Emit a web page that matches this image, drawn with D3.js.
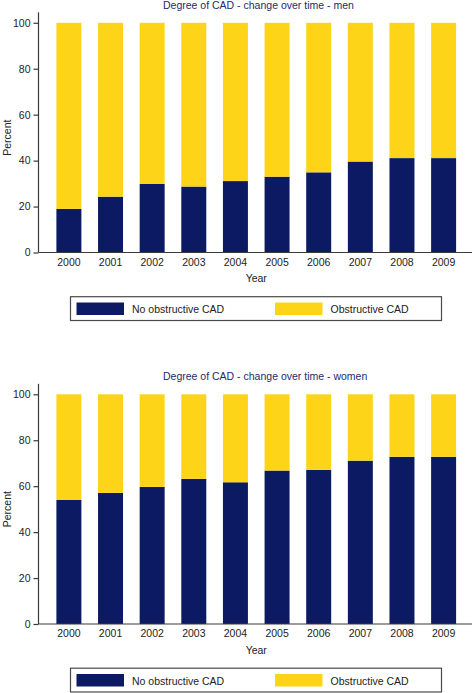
<!DOCTYPE html>
<html lang="en">
<head>
    <meta charset="UTF-8">
    <title>Degree of CAD - change over time</title>
    <style>
        body{
            margin: 0;
            background-color: #ffffff;
        }
        svg{
            display: block;
            font-family: "Liberation Sans", Arial, sans-serif;
        }
        .axis text{
            font-size: 10.5px;
            fill: #222;
        }
        .axis .domain, .axis line{
            stroke: #3a3a3a;
            stroke-width: 1.2px;
        }
        .title{
            font-size: 10.5px;
            fill: #1e2a6e;
        }
        .label{
            font-size: 10.5px;
            fill: #222;
        }
        .legendBox{
            fill: none;
            stroke: #4a4a4a;
            stroke-width: 1.2px;
        }
    </style>
    <script src="https://cdn.jsdelivr.net/npm/d3@7"></script>
</head>
<body>
<script>

    const years = ["2000","2001","2002","2003","2004","2005","2006","2007","2008","2009"];
    // percent with no obstructive CAD, the rest is obstructive
    const menNoObstructive   = [19.0, 24.3, 29.9, 28.7, 31.1, 33.0, 34.9, 39.6, 41.1, 41.1];
    const womenNoObstructive = [54.0, 57.1, 59.7, 63.2, 61.7, 66.8, 67.1, 71.1, 72.8, 72.8];
    const yTicks = [0, 20, 40, 60, 80, 100];
    const seriesNames = ["No obstructive CAD", "Obstructive CAD"];
    const titles = ["Degree of CAD - change over time - men",
                    "Degree of CAD - change over time - women"];

    const colors = ["#0b1a62", "#fdd418"];

    const width = 474;
    const height = 693;

    const svg = d3.select("body").append("svg")
        .attr("width", width)
        .attr("height", height)
        .attr("viewBox", `0,0,${width},${height}`);

    const margins = {left: 38.5, right: 474, top: 22.8, bottom: 252.5};

    const xScale = d3.scaleBand()
        .domain(years)
        .range([margins.left, margins.right])
        .paddingInner(0.4)
        .paddingOuter(0.43);

    const yScale = d3.scaleLinear()
        .domain([0, 100])
        .range([margins.bottom, margins.top]);

    function drawPanel(offsetY, title, values){
        const g = svg.append("g")
            .attr("transform", `translate(0,${offsetY})`);

        const data = years.map((y, i) => ({year: y, no: values[i], obs: 100 - values[i]}));
        const stack = d3.stack().keys(["no", "obs"])(data);

        // bars
        g.append("g")
            .selectAll("g")
            .data(stack)
            .enter()
            .append("g")
            .attr("fill", (d, i) => colors[i])
            .selectAll("rect")
            .data(d => d)
            .enter()
            .append("rect")
            .attr("x", d => xScale(d.data.year))
            .attr("width", xScale.bandwidth())
            .attr("y", d => yScale(d[1]))
            .attr("height", d => yScale(d[0]) - yScale(d[1]));

        // y axis
        const yAxis = g.append("g")
            .attr("class", "axis")
            .attr("transform", `translate(${margins.left},0)`)
            .call(d3.axisLeft(yScale).tickValues(yTicks).tickSize(5).tickSizeOuter(0).tickPadding(3));
        yAxis.select(".domain").remove();
        yAxis.append("line")
            .attr("x1", 0).attr("x2", 0)
            .attr("y1", yScale(0))
            .attr("y2", yScale(100) - 10.5)
            .attr("stroke", "#3a3a3a")
            .attr("stroke-width", 1.2);

        // x axis
        const xAxis = g.append("g")
            .attr("class", "axis")
            .attr("transform", `translate(0,${margins.bottom})`)
            .call(d3.axisBottom(xScale).tickSize(0).tickPadding(6));
        xAxis.select(".domain").remove();
        xAxis.append("line")
            .attr("x1", margins.left).attr("x2", 472)
            .attr("y1", 0).attr("y2", 0)
            .attr("stroke", "#3a3a3a")
            .attr("stroke-width", 1.2);

        // title
        g.append("text")
            .attr("class", "title")
            .attr("x", 163)
            .attr("y", 8.8)
            .text(title);

        // axis labels
        g.append("text")
            .attr("class", "label")
            .attr("transform", `translate(7,${(margins.top + margins.bottom) / 2}) rotate(-90)`)
            .attr("dy", "0.35em")
            .style("text-anchor", "middle")
            .text("Percent");

        g.append("text")
            .attr("class", "label")
            .attr("x", (margins.left + margins.right) / 2)
            .attr("y", 282)
            .style("text-anchor", "middle")
            .text("Year");

        // legend
        g.append("rect")
            .attr("class", "legendBox")
            .attr("x", 70.5)
            .attr("y", 296.7)
            .attr("width", 371)
            .attr("height", 23.8);

        const legend = g.append("g")
            .selectAll("g")
            .data(seriesNames)
            .enter()
            .append("g")
            .attr("transform", (d, i) => `translate(${76.5 + i * 198.5},302.5)`);

        legend.append("rect")
            .attr("width", 47.5)
            .attr("height", 12.5)
            .attr("fill", (d, i) => colors[i]);

        legend.append("text")
            .attr("class", "label")
            .attr("x", 55.5)
            .attr("y", 10.8)
            .text(d => d);
    }

    drawPanel(0, titles[0], menNoObstructive);
    drawPanel(371.5, titles[1], womenNoObstructive);

</script>
</body>
</html>
